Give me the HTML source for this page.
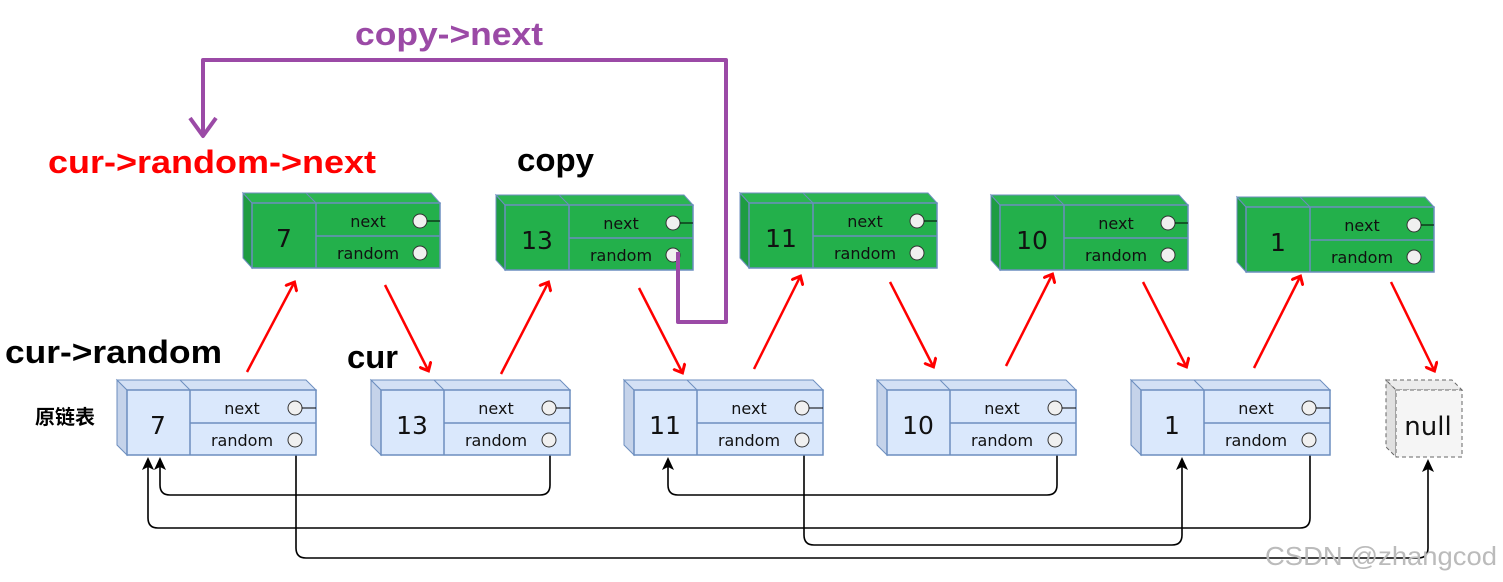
<!DOCTYPE html>
<html><head><meta charset="utf-8"><style>
html,body{margin:0;padding:0;background:#fff;width:1503px;height:582px;overflow:hidden}
svg{display:block}
.v{font-family:"Comic Sans MS","DejaVu Sans",sans-serif;font-size:25px;text-anchor:middle;fill:#111}
.f{font-family:"Comic Sans MS","DejaVu Sans",sans-serif;font-size:16px;text-anchor:middle;fill:#111}
.lbl{font-family:"Liberation Sans",sans-serif;font-weight:bold;font-size:32px}
</style></head><body>
<svg width="1503" height="582" viewBox="0 0 1503 582" xmlns="http://www.w3.org/2000/svg">
<defs>
<marker id="ar" markerWidth="14" markerHeight="14" refX="7" refY="7" orient="auto" markerUnits="userSpaceOnUse"><path d="M0,0 L8,7 L0,14" fill="none" stroke="#f00" stroke-width="3"/></marker>
<g id="ah"><path d="M0,0 L-6,13 L0,10 L6,13 Z" fill="#000"/></g>
<g id="bshape">
<polygon points="0,0 10,10 10,75 0,65" fill="#c5d3ea" stroke="#6c8ebf"/>
<polygon points="0,0 189,0 199,10 10,10" fill="#d4e1f5" stroke="#6c8ebf"/>
<rect x="10" y="10" width="189" height="65" fill="#dae8fc" stroke="#6c8ebf" stroke-width="1.5"/>
<line x1="73" y1="10" x2="73" y2="75" stroke="#6c8ebf" stroke-width="1.5"/>
<line x1="73" y1="43" x2="199" y2="43" stroke="#6c8ebf" stroke-width="1.5"/>
<line x1="63" y1="0" x2="73" y2="10" stroke="#6c8ebf"/>
<circle cx="178" cy="28" r="7" fill="#f0f0f0" stroke="#333"/>
<circle cx="178" cy="60" r="7" fill="#f0f0f0" stroke="#333"/>
<line x1="185" y1="28" x2="199" y2="28" stroke="#000"/>
</g>
<g id="gshape">
<polygon points="0,0 9,10 9,75 0,65" fill="#1e9c42" stroke="#6c8ebf"/>
<polygon points="0,0 188,0 197,10 9,10" fill="#2bb552" stroke="#6c8ebf"/>
<rect x="9" y="10" width="188" height="65" fill="#23b04b" stroke="#6c8ebf" stroke-width="1.5"/>
<line x1="73" y1="10" x2="73" y2="75" stroke="#6c8ebf" stroke-width="1.5"/>
<line x1="73" y1="43" x2="197" y2="43" stroke="#6c8ebf" stroke-width="1.5"/>
<line x1="63" y1="0" x2="73" y2="10" stroke="#6c8ebf"/>
<circle cx="177" cy="28" r="7" fill="#f0f0f0" stroke="#333"/>
<circle cx="177" cy="60" r="7" fill="#f0f0f0" stroke="#333"/>
<line x1="184" y1="28" x2="197" y2="28" stroke="#000"/>
</g>
</defs>

<!-- black random connectors -->
<g fill="none" stroke="#000" stroke-width="1.6">
<path d="M550,447 V485 Q550,495 540,495 H170 Q160,495 160,485 V466"/>
<path d="M1310,447 V518 Q1310,528 1300,528 H158 Q148,528 148,518 V466"/>
<path d="M1057,447 V485 Q1057,495 1047,495 H678 Q668,495 668,485 V466"/>
<path d="M804,447 V535 Q804,545 814,545 H1172 Q1182,545 1182,535 V466"/>
<path d="M296,447 V548 Q296,558 306,558 H1418 Q1428,558 1428,548 V468"/>
</g>
<use href="#ah" transform="translate(160,457)"/>
<use href="#ah" transform="translate(148,457)"/>
<use href="#ah" transform="translate(668,457)"/>
<use href="#ah" transform="translate(1182,457)"/>
<use href="#ah" transform="translate(1428,459)"/>

<!-- blue nodes -->
<g transform="translate(117,380)"><use href="#bshape"/><text class="v" x="41" y="54">7</text><text class="f" x="125" y="34">next</text><text class="f" x="125" y="66">random</text></g>
<g transform="translate(371,380)"><use href="#bshape"/><text class="v" x="41" y="54">13</text><text class="f" x="125" y="34">next</text><text class="f" x="125" y="66">random</text></g>
<g transform="translate(624,380)"><use href="#bshape"/><text class="v" x="41" y="54">11</text><text class="f" x="125" y="34">next</text><text class="f" x="125" y="66">random</text></g>
<g transform="translate(877,380)"><use href="#bshape"/><text class="v" x="41" y="54">10</text><text class="f" x="125" y="34">next</text><text class="f" x="125" y="66">random</text></g>
<g transform="translate(1131,380)"><use href="#bshape"/><text class="v" x="41" y="54">1</text><text class="f" x="125" y="34">next</text><text class="f" x="125" y="66">random</text></g>

<!-- null -->
<g transform="translate(1386,380)" stroke="#666" stroke-dasharray="4,3">
<polygon points="0,0 10,10 10,77 0,67" fill="#e0e0e0"/>
<polygon points="0,0 66,0 76,10 10,10" fill="#ececec"/>
<rect x="10" y="10" width="66" height="67" fill="#f5f5f5"/>
</g>
<text x="1428" y="435" class="v" style="font-size:26px">null</text>

<!-- green nodes -->
<g transform="translate(243,193)"><use href="#gshape"/><text class="v" x="41" y="54">7</text><text class="f" x="125" y="34">next</text><text class="f" x="125" y="66">random</text></g>
<g transform="translate(496,195)"><use href="#gshape"/><text class="v" x="41" y="54">13</text><text class="f" x="125" y="34">next</text><text class="f" x="125" y="66">random</text></g>
<g transform="translate(740,193)"><use href="#gshape"/><text class="v" x="41" y="54">11</text><text class="f" x="125" y="34">next</text><text class="f" x="125" y="66">random</text></g>
<g transform="translate(991,195)"><use href="#gshape"/><text class="v" x="41" y="54">10</text><text class="f" x="125" y="34">next</text><text class="f" x="125" y="66">random</text></g>
<g transform="translate(1237,197)"><use href="#gshape"/><text class="v" x="41" y="54">1</text><text class="f" x="125" y="34">next</text><text class="f" x="125" y="66">random</text></g>

<!-- red arrows -->
<g stroke="#f00" stroke-width="2.5" fill="none">
<line x1="247" y1="372" x2="294" y2="283" marker-end="url(#ar)"/>
<line x1="385" y1="285" x2="428" y2="370" marker-end="url(#ar)"/>
<line x1="501" y1="374" x2="548" y2="283" marker-end="url(#ar)"/>
<line x1="639" y1="288" x2="682" y2="372" marker-end="url(#ar)"/>
<line x1="754" y1="369" x2="800" y2="277" marker-end="url(#ar)"/>
<line x1="890" y1="282" x2="933" y2="366" marker-end="url(#ar)"/>
<line x1="1006" y1="366" x2="1052" y2="275" marker-end="url(#ar)"/>
<line x1="1143" y1="282" x2="1186" y2="366" marker-end="url(#ar)"/>
<line x1="1254" y1="368" x2="1300" y2="277" marker-end="url(#ar)"/>
<line x1="1391" y1="282" x2="1434" y2="370" marker-end="url(#ar)"/>
</g>

<!-- purple path -->
<g stroke="#9b4aa6" stroke-width="4" fill="none" stroke-linejoin="round">
<path d="M678,252 V322 H726 V60 H203 V133"/>
<path d="M190,118 L203,136 L216,118"/>
</g>

<!-- labels -->
<text class="lbl" x="355" y="45" fill="#9b4aa6" textLength="188" lengthAdjust="spacingAndGlyphs">copy-&gt;next</text>
<text class="lbl" x="48" y="173" fill="#f00" textLength="328" lengthAdjust="spacingAndGlyphs">cur-&gt;random-&gt;next</text>
<text class="lbl" x="517" y="171" fill="#000" textLength="77" lengthAdjust="spacingAndGlyphs">copy</text>
<text class="lbl" x="5" y="363" fill="#000" textLength="217" lengthAdjust="spacingAndGlyphs">cur-&gt;random</text>
<text class="lbl" x="347" y="368" fill="#000" textLength="51" lengthAdjust="spacingAndGlyphs">cur</text>
<text x="35" y="424" fill="#000" style="font-family:'Liberation Sans','Noto Sans CJK SC',sans-serif;font-weight:bold;font-size:20px">原链表</text>
<text x="1265" y="565" fill="#bbb" style="font-family:'Liberation Sans',sans-serif;font-size:26px" textLength="232" lengthAdjust="spacingAndGlyphs">CSDN @zhangcod</text>
</svg>
</body></html>
